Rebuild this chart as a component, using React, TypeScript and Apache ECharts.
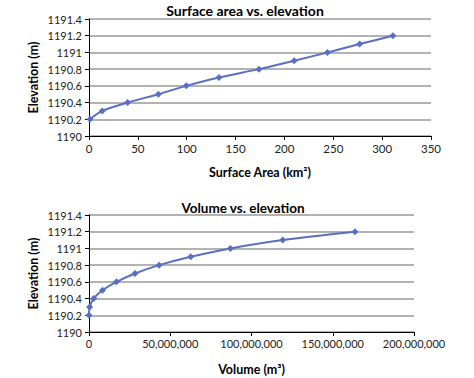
import React, { useEffect, useRef } from "react";
import * as echarts from "echarts";

const elevations = [1190.2, 1190.3, 1190.4, 1190.5, 1190.6, 1190.7, 1190.8, 1190.9, 1191.0, 1191.1, 1191.2];
const surfaceArea = [1, 13.5, 39.5, 71, 99.5, 133, 174, 210, 244, 277, 311];
const volume = [0, 400000, 2900000, 8300000, 16900000, 28300000, 43100000, 62600000, 87000000, 119200000, 163700000];

const titleTop = "Surface area vs. elevation";
const titleBottom = "Volume vs. elevation";
const xNameTop = "Surface Area (km²)";
const xNameBottom = "Volume (m³)";
const yName = "Elevation (m)";

const FONT = "Lato, 'Open Sans', sans-serif";
const LINE_COLOR = "#5a6fc4";

export default function App() {
  const ref = useRef<HTMLDivElement>(null);
  useEffect(() => {
    if (!ref.current) return;
    const chart = echarts.init(ref.current, undefined, { renderer: "svg" });
    const yAxisCommon = (gridIndex: number) => ({
      type: "value" as const,
      gridIndex,
      min: 1190,
      max: 1191.4,
      interval: 0.2,
      name: yName,
      nameLocation: "middle" as const,
      nameGap: 49,
      nameMoveOverlap: false,
      nameRotate: 90,
      nameTextStyle: { fontFamily: FONT, fontWeight: "bold" as const, fontSize: 12.5, color: "#000" },
      axisLine: { show: true, lineStyle: { color: "#000", width: 1 } },
      axisTick: { show: true, length: 4, lineStyle: { color: "#000" } },
      axisLabel: {
        fontFamily: FONT,
        fontSize: 11,
        color: "#222",
        margin: 7,
        formatter: (v: number) => String(Math.round(v * 10) / 10),
      },
      splitLine: { show: true, lineStyle: { color: "#999", width: 1.5 } },
    });
    const xAxisCommon = (gridIndex: number) => ({
      type: "value" as const,
      gridIndex,
      nameLocation: "middle" as const,
      nameGap: 30,
      nameTextStyle: { fontFamily: FONT, fontWeight: "bold" as const, fontSize: 12.5, color: "#000" },
      axisLine: { show: true, onZero: false, lineStyle: { color: "#000", width: 1 } },
      axisTick: { show: true, length: 4, lineStyle: { color: "#000" } },
      axisLabel: { fontFamily: FONT, fontSize: 11.5, color: "#222", margin: 6 },
      splitLine: { show: false },
    });
    chart.setOption({
      animation: false,
      backgroundColor: "#fff",
      title: [
        {
          text: titleTop,
          left: 240,
          top: -2,
          textAlign: "center",
          textStyle: { fontFamily: FONT, fontWeight: "bold", fontSize: 14, color: "#000" },
        },
        {
          text: titleBottom,
          left: 238,
          top: 196,
          textAlign: "center",
          textStyle: { fontFamily: FONT, fontWeight: "bold", fontSize: 13.5, color: "#000" },
        },
      ],
      grid: [
        { left: 89, right: 43, top: 19, height: 117 },
        { left: 89, right: 60, top: 215, height: 117 },
      ],
      xAxis: [
        { ...xAxisCommon(0), min: 0, max: 350, interval: 50, name: xNameTop },
        {
          ...xAxisCommon(1),
          min: 0,
          max: 200000000,
          interval: 50000000,
          name: xNameBottom,
          nameGap: 31,
          axisLabel: {
            fontFamily: FONT,
            fontSize: 11,
            color: "#222",
            margin: 6,
            formatter: (v: number) => v.toLocaleString("en-US"),
          },
        },
      ],
      yAxis: [yAxisCommon(0), yAxisCommon(1)],
      series: [
        {
          type: "line",
          xAxisIndex: 0,
          yAxisIndex: 0,
          data: surfaceArea.map((x, i) => [x, elevations[i]]),
          smooth: 0.3,
          symbol: "diamond",
          symbolSize: 7,
          lineStyle: { color: LINE_COLOR, width: 2 },
          itemStyle: { color: LINE_COLOR },
        },
        {
          type: "line",
          xAxisIndex: 1,
          yAxisIndex: 1,
          data: volume.map((x, i) => [x, elevations[i]]),
          smooth: 0.3,
          symbol: "diamond",
          symbolSize: 7,
          lineStyle: { color: LINE_COLOR, width: 2 },
          itemStyle: { color: LINE_COLOR },
        },
      ],
    });
    return () => chart.dispose();
  }, []);
  return (
    <div
      ref={ref}
      style={{ position: "fixed", left: 0, top: 0, width: 474, height: 378, background: "#fff" }}
    />
  );
}
